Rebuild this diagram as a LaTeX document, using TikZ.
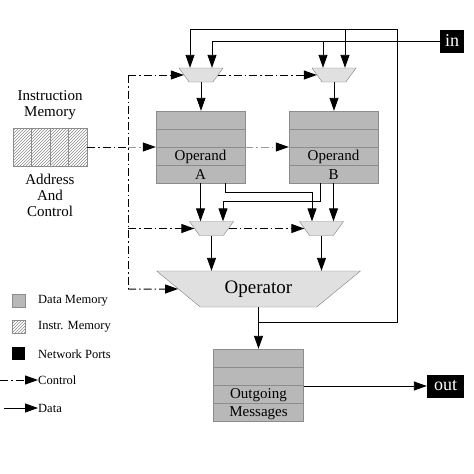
\documentclass[tikz,border=0pt]{standalone}
\usepackage{fontspec}
\setmainfont{Liberation Serif}
\usetikzlibrary{arrows.meta,shapes.geometric,patterns}

\tikzset{
  tip/.style={-{Triangle[length=13pt,width=9pt,color=black]}},
  wire/.style={line width=0.9pt},
  data/.style={wire, tip},
  ctrlline/.style={line width=1pt, dash pattern=on 8pt off 3pt on 1.5pt off 3pt},
  ctrl/.style={ctrlline, tip},
  membox/.style={draw=black!45, fill=black!28, minimum width=89pt, minimum height=72pt, inner sep=0pt},
  rowline/.style={draw=black!45, line width=0.6pt},
  mux/.style={trapezium, shape border rotate=180, trapezium angle=67, trapezium stretches=true,
    minimum width=44pt, minimum height=14pt, inner sep=1pt, draw=black!50, fill=black!12},
  alu/.style={mux, trapezium angle=35.5, minimum width=204pt, minimum height=36pt,
    font=\fontsize{19}{20}\selectfont},
  port/.style={fill=black, text=white, minimum height=23pt, inner sep=0pt,
    font=\fontsize{18}{18}\selectfont},
  lbl/.style={inner sep=0pt, font=\fontsize{15}{16}\selectfont},
  leg/.style={anchor=west, inner sep=0pt, font=\fontsize{12.5}{14}\selectfont},
  legbox/.style={minimum size=13pt, inner sep=0pt}
}

\begin{document}
\begin{tikzpicture}[x=1pt, y=-1pt]
  \useasboundingbox (0,0) rectangle (474,474);

  % Speicher
  \node[membox] (opA) at (200.5,147) {};
  \node[membox] (opB) at (333.5,147) {};
  \node[membox, minimum width=90pt] (outmsg) at (258.5,385) {};
  \foreach \b in {opA,opB,outmsg}
    \foreach \k in {1,2,3}
      \draw[rowline] ([yshift=-\k*18pt]\b.north west) -- ([yshift=-\k*18pt]\b.north east);

  \node[lbl] (opAtxt) at ([yshift=-46pt]opA.north) {Operand};
  \node[lbl] (opAid) at ([yshift=-64pt]opA.north) {A};
  \node[lbl] (opBtxt) at ([yshift=-46pt]opB.north) {Operand};
  \node[lbl] (opBid) at ([yshift=-64pt]opB.north) {B};
  \node[lbl] (outtxt) at ([yshift=-46pt]outmsg.north) {Outgoing};
  \node[lbl] (outtxt2) at ([yshift=-64pt]outmsg.north) {Messages};

  % Multiplexer und Operator
  \node[mux] (muxA) at (201,75) {};
  \node[mux] (muxB) at (334,75) {};
  \node[mux] (selA) at (211.5,228.5) {};
  \node[mux] (selB) at (321.5,228.5) {};
  \node[alu] (alu) at (258.5,289) {Operator};

  % Ports
  \node[port, minimum width=24pt] (in) at (452,41) {in};
  \node[port, minimum width=37pt] (out) at (445.5,386) {out};

  % Befehlsspeicher
  \node[draw=black!45, pattern=north east lines, pattern color=black!45,
    minimum width=74pt, minimum height=38pt, inner sep=0pt] (imem) at (50,147) {};
  \foreach \k in {1,2,3}
    \draw[rowline] ([xshift=\k*18.5pt]imem.north west) -- ([xshift=\k*18.5pt]imem.south west);
  \node[lbl, align=center] (imemtxt) at (50,105) {Instruction\\Memory};
  \node[lbl, align=center] (adrtxt) at (50,195) {Address\\And\\Control};

  % Daten
  \coordinate (fbR) at (397,322);
  \coordinate (fbT) at (397,29);
  \coordinate (fb) at (alu.south |- fbR);
  \draw[data] (alu.south) -- (outmsg.north);
  \draw[data] (fb) -- (fbR) -- (fbT) -| ([xshift=-11pt]muxA.north);
  \draw[data] ([xshift=11pt]muxB.north |- fbT) -- ([xshift=11pt]muxB.north);
  \draw[data] (in.west) -| ([xshift=11pt]muxA.north);
  \draw[data] ([xshift=-11pt]muxB.north |- in) -- ([xshift=-11pt]muxB.north);
  \draw[data] (muxA.south) -- (muxA.south |- opA.north);
  \draw[data] (muxB.south) -- (muxB.south |- opB.north);

  \draw[data] (opA.south) -- (opA.south |- selA.north);
  \draw[data] ([xshift=-13.5pt]opB.south) -- ++(0,18) -| ([xshift=11.5pt]selA.north);
  \draw[data] ([xshift=24.5pt]opA.south) -- ++(0,9) -| ([xshift=-9.5pt]selB.north);
  \draw[data] (opB.south) -- (opB.south |- selB.north);
  \draw[data] (selA.south) -- (selA.south |- alu.north);
  \draw[data] (selB.south) -- (selB.south |- alu.north);
  \draw[data] (outmsg.east |- out) -- (out.west);

  % Steuerung
  \coordinate (cT) at (128,75);
  \coordinate (cM) at (128,147);
  \coordinate (cB) at (128,289);
  \draw[ctrlline] (cT) -- (cB);
  \draw[ctrl] (cT) -- (muxA);
  \draw[ctrl] (muxA) -- (muxB);
  \draw[ctrl] (cT |- selA) -- (selA);
  \draw[ctrl] (selA) -- (selB);
  \draw[ctrl] (cB) -- (alu);
  \draw[ctrlline] (imem.east) -- (cM);
  \draw[ctrl, black!40] (cM) -- (opA.west);
  \draw[ctrl, black!40] (opA.east) -- (opB.west);

  % Legende
  \node[legbox, draw=black!45, fill=black!28] (lgData) at (18.5,300.5) {};
  \node[legbox, draw=black!45, pattern=north east lines, pattern color=black!45] (lgInstr) at (18.5,326.5) {};
  \node[legbox, fill=black] (lgPort) at (18.5,353.5) {};
  \node[leg] (lgDatatxt) at (38,301) {Data Memory};
  \node[leg] (lgInstrtxt) at (38,327) {Instr. Memory};
  \node[leg] (lgPorttxt) at (38,354) {Network Ports};
  \node[leg] (lgCtrltxt) at (38,380) {Control};
  \node[leg] (lgWiretxt) at (38,408) {Data};
  \coordinate (lgC) at (0,380);
  \coordinate (lgW) at (4,408);
  \draw[ctrl] (lgC) -- (lgCtrltxt.west);
  \draw[data] (lgW) -- (lgWiretxt.west);

\end{tikzpicture}
\end{document}
